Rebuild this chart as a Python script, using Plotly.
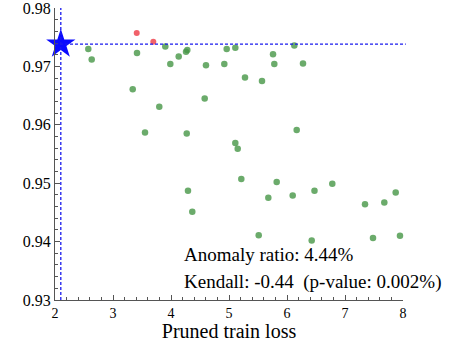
import plotly.graph_objects as go

# Normal (non-anomalous) points
normal_x = [2.574, 2.633, 3.414, 3.340, 3.798, 3.902, 3.988, 4.133, 4.259, 4.281,
            4.603, 4.960, 5.109, 4.919, 5.276, 5.569, 5.759, 5.781, 6.126, 6.276,
            4.581, 3.552, 4.271, 5.109, 5.150, 6.167, 5.212, 5.822, 4.293, 5.678,
            6.098, 6.474, 4.367, 6.781, 7.345, 7.678, 7.874, 5.512, 6.426, 7.483,
            7.948]
normal_y = [0.9730, 0.9712, 0.9723, 0.9661, 0.9631, 0.9734, 0.9704, 0.9717, 0.9725, 0.9728,
            0.9702, 0.9730, 0.9732, 0.9704, 0.9681, 0.9675, 0.9721, 0.9704, 0.9736, 0.9705,
            0.9645, 0.9587, 0.9585, 0.9569, 0.9559, 0.9591, 0.9507, 0.9502, 0.9487, 0.9475,
            0.9479, 0.9487, 0.9451, 0.9499, 0.9464, 0.9467, 0.9484, 0.9411, 0.9402, 0.9406,
            0.9410]

# Anomalous points
anomaly_x = [3.409, 3.695]
anomaly_y = [0.9757, 0.9742]

# Reference (star) point
star_x = [2.10]
star_y = [0.9738]

x_range = [2, 8]
y_range = [0.93, 0.98]
y_ticks = [0.93, 0.94, 0.95, 0.96, 0.97, 0.98]
y_ticktext = ["0.93", "0.94", "0.95", "0.96", "0.97", "0.98"]

anomaly_text = "Anomaly ratio: 4.44%"
kendall_text = "Kendall: -0.44  (p-value: 0.002%)"
x_title = "Pruned train loss"

SERIF = "Liberation Serif, Times New Roman, serif"

fig = go.Figure()

fig.add_trace(go.Scatter(
    x=normal_x, y=normal_y, mode="markers",
    marker=dict(color="rgb(70,150,70)", size=6.5, opacity=0.8, line=dict(width=0)),
    showlegend=False, cliponaxis=False))

fig.add_trace(go.Scatter(
    x=anomaly_x, y=anomaly_y, mode="markers",
    marker=dict(color="rgb(240,80,90)", size=6, opacity=0.9, line=dict(width=0)),
    showlegend=False, cliponaxis=False))

# Dashed reference lines through the star
fig.add_shape(type="line", xref="x", yref="paper",
              x0=star_x[0], x1=star_x[0], y0=0, y1=1,
              line=dict(color="#1a1aee", width=1.3, dash="3px,2px"))
fig.add_shape(type="line", xref="paper", yref="y",
              x0=0, x1=1.008, y0=star_y[0], y1=star_y[0],
              line=dict(color="#1a1aee", width=1.3, dash="3px,2px"))

fig.add_trace(go.Scatter(
    x=star_x, y=star_y, mode="markers",
    marker=dict(symbol="star", color="#0a0aff", size=22, line=dict(width=0)),
    showlegend=False, cliponaxis=False))

fig.add_annotation(text=anomaly_text, xref="paper", yref="paper",
                   x=(182 - 55) / 348, y=(300 - 254) / 292, xanchor="left", yanchor="middle",
                   showarrow=False, font=dict(family=SERIF, size=19, color="black"))
fig.add_annotation(text=kendall_text, xref="paper", yref="paper",
                   x=(182 - 55) / 348, y=(300 - 282) / 292, xanchor="left", yanchor="middle",
                   showarrow=False, font=dict(family=SERIF, size=19, color="black"))

axis_common = dict(
    showgrid=False, zeroline=False, showline=True, linecolor="#555555", linewidth=1,
    ticks="inside", ticklen=5, tickcolor="#555555", tickwidth=1,
    mirror=False, ticklabeloverflow="allow", automargin=False,
)

fig.update_xaxes(range=x_range, dtick=1, tick0=2,
                 tickfont=dict(family=SERIF, size=14, color="black"),
                 minor=dict(dtick=0.2, ticks="inside", ticklen=3, tickcolor="#555555"),
                 title=dict(text=x_title, font=dict(family=SERIF, size=20, color="black"), standoff=4),
                 **axis_common)
fig.update_yaxes(range=[y_range[0], y_range[1] + 1e-7],
                 tickmode="array", tickvals=y_ticks, ticktext=y_ticktext,
                 tickfont=dict(family=SERIF, size=16, color="black"),
                 minor=dict(tickmode="linear", tick0=0.93, dtick=0.002, ticks="inside", ticklen=3, tickcolor="#555555"),
                 **axis_common)

fig.update_layout(
    width=474, height=342,
    margin=dict(l=55, r=71, t=8, b=42),
    plot_bgcolor="white", paper_bgcolor="white",
)

fig.write_html("out.html")
